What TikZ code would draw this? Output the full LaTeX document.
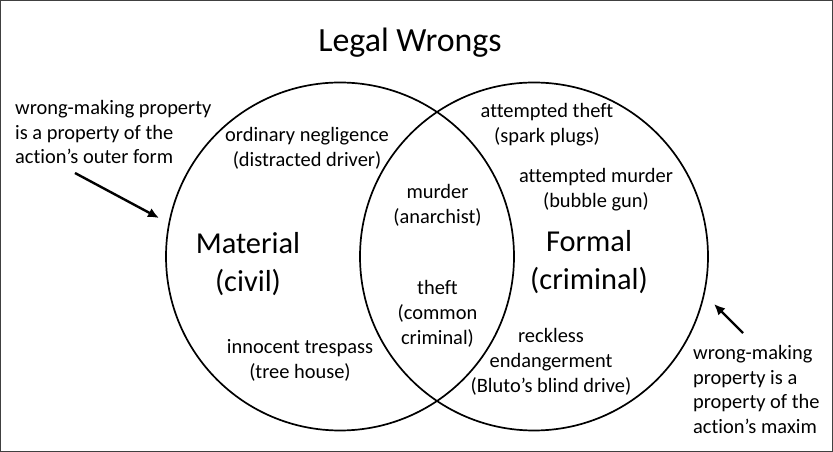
\documentclass[tikz,border=0pt]{standalone}
\usepackage{fontspec}
\setmainfont[Ligatures=CommonOff]{Carlito}
\usetikzlibrary{arrows.meta}
\begin{document}
\begin{tikzpicture}[x=1bp,y=-1bp,
  ring/.style={circle,draw,line width=1.7bp,minimum size=348bp,inner sep=0pt},
  lbl/.style={align=center,inner sep=0pt,font=\fontsize{20.5}{25}\selectfont},
  big/.style={align=center,inner sep=0pt,font=\fontsize{30.5}{38}\selectfont},
  note/.style={align=left,inner sep=0pt,anchor=west,font=\fontsize{20.5}{25}\selectfont},
  pointer/.style={line width=2.4bp,-{Latex[length=11bp,width=10bp]}}]
\useasboundingbox (0,0) rectangle (833,452);
\draw[line width=1.5bp,black!75] (0.75,0.75) rectangle (832.25,451.25);
\node[ring] (L) at (340,256.5) {};
\node[ring] (R) at (534,256.5) {};
\node[inner sep=0pt,font=\fontsize{34}{40}\selectfont] (title) at (410,43) {Legal Wrongs};
\node[note] (nl) at (15,132) {wrong-making property\\is a property of the\\action’s outer form};
\node[note] (nr) at (693,389.5) {wrong-making\\property is a\\property of the\\action’s maxim};
\coordinate (a1s) at (75,173);
\coordinate (a1e) at (159,218);
\coordinate (a2s) at (743,333);
\coordinate (a2e) at (714,304);
\draw[pointer] (a1s) -- (a1e);
\draw[pointer] (a2s) -- (a2e);
\node[lbl] (neg) at (307,148) {ordinary negligence\\(distracted driver)};
\node[big] (mat) at (248,264) {Material\\(civil)};
\node[lbl] (tres) at (300,360) {innocent trespass\\(tree house)};
\node[lbl] (mur) at (437.5,205) {murder\\(anarchist)};
\node[lbl] (thf) at (437.5,314) {theft\\(common\\criminal)};
\node[lbl] (att) at (547,125) {attempted theft\\(spark plugs)};
\node[lbl] (atm) at (596,190) {attempted murder\\(bubble gun)};
\node[big] (form) at (589,262) {Formal\\(criminal)};
\node[lbl] (reck) at (551,362) {reckless\\endangerment\\(Bluto’s blind drive)};
\end{tikzpicture}
\end{document}
